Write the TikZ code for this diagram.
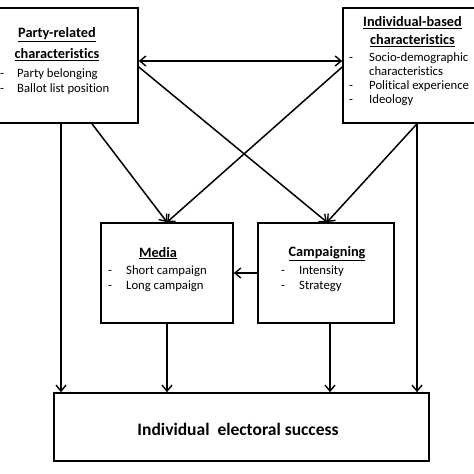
\documentclass[tikz,border=0pt]{standalone}
\usepackage{fontspec}
\setmainfont{Carlito}[Ligatures=NoCommon]
\usetikzlibrary{arrows.meta}
\newcommand\myul[1]{\underline{\smash{#1}\vphantom{a}}}
\begin{document}
\begin{tikzpicture}[x=1bp,y=-1bp,
  box/.style={draw, line width=1.6bp, inner sep=0pt},
  conn/.style={line width=1.5bp, -{Straight Barb[length=6bp,width=10bp,line width=1.4bp]}},
  ttl/.style={anchor=base, inner sep=0pt, font=\fontsize{14.3bp}{16bp}\selectfont\bfseries},
  itm/.style={anchor=base west, inner sep=0pt, font=\fontsize{12.7bp}{15bp}\selectfont},
  dsh/.style={anchor=base, inner sep=0pt, font=\fontsize{12.7bp}{15bp}\selectfont}]
\useasboundingbox (0,0) rectangle (474,474);
\clip (0,0) rectangle (474,474);
\fill[white] (0,0) rectangle (474,474);
% boxes
\node[box, minimum width=162bp, minimum height=115bp] (party) at (57,65.5) {};
\node[box, minimum width=138bp, minimum height=115bp] (indiv) at (412,65.5) {};
\node[box, minimum width=132bp, minimum height=100bp] (media) at (167,273) {};
\node[box, minimum width=136bp, minimum height=100bp] (camp) at (326,273) {};
\node[box, minimum width=375bp, minimum height=68bp] (succ) at (241.5,427) {};
% party text
\node[ttl] (pt1) at (57,38) {\underline{Party-related}};
\node[ttl] (pt2) at (57,59) {\underline{characteristics}};
\node[dsh] (pd1) at (2,78) {-};
\node[itm] (pi1) at (17,78) {Party belonging};
\node[dsh] (pd2) at (2,93) {-};
\node[itm] (pi2) at (17,93) {Ballot list position};
% indiv text
\node[ttl] (it1) at (412.5,27) {\underline{Individual-based}};
\node[ttl] (it2) at (412.5,44.5) {\underline{characteristics}};
\node[dsh] (id1) at (351,62) {-};
\node[itm] (ii1) at (369,62) {Socio-demographic};
\node[itm] (ii2) at (369,76) {characteristics};
\node[dsh] (id3) at (351,90) {-};
\node[itm] (ii3) at (369,90) {Political experience};
\node[dsh] (id4) at (351,104) {-};
\node[itm] (ii4) at (369,104) {Ideology};
% media text
\node[ttl] (mt) at (158,257) {\underline{Media}};
\node[dsh] (md1) at (110,274) {-};
\node[itm] (mi1) at (126,274) {Short campaign};
\node[dsh] (md2) at (110,289) {-};
\node[itm] (mi2) at (126,289) {Long campaign};
% campaigning text
\node[ttl] (ct) at (327,256) {\underline{Campaigning}};
\node[dsh] (cd1) at (283,274) {-};
\node[itm] (ci1) at (299,274) {Intensity};
\node[dsh] (cd2) at (283,289) {-};
\node[itm] (ci2) at (299,289) {Strategy};
% success text
\node[anchor=base, inner sep=0pt, font=\fontsize{17.5bp}{20bp}\selectfont\bfseries] (st) at (238,435.5) {Individual\ \ electoral success};
% connectors
\draw[conn, {Straight Barb[length=6bp,width=10bp,line width=1.4bp]}-{Straight Barb[length=6bp,width=10bp,line width=1.4bp]}] ([yshift=4.5bp]party.east) -- ([yshift=4.5bp]indiv.west);
\draw[conn] ([yshift=-1.5bp]party.east) -- ([xshift=1bp]camp.north);
\draw[conn] ([xshift=35bp]party.south) -- (media.north);
\draw[conn] ([yshift=-1.5bp]indiv.west) -- (media.north);
\draw[conn] ([xshift=5bp]indiv.south) -- ([xshift=1bp]camp.north);
\draw[conn] ([xshift=4bp]party.south) -- ([xshift=4bp]party.south |- succ.north);
\draw[conn] (media.south) -- (media.south |- succ.north);
\draw[conn] ([xshift=4bp]camp.south) -- ([xshift=4bp]camp.south |- succ.north);
\draw[conn] ([xshift=5bp]indiv.south) -- ([xshift=5bp]indiv.south |- succ.north);
\draw[conn] (camp.west) -- (media.east);
\end{tikzpicture}
\end{document}
